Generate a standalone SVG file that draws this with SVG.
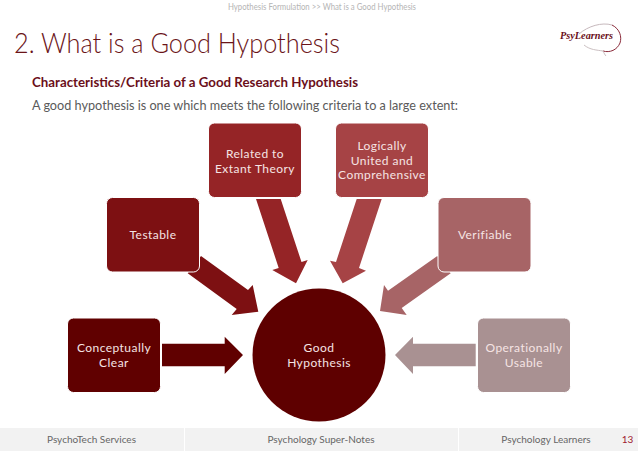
<svg xmlns="http://www.w3.org/2000/svg" width="638" height="451" viewBox="0 0 638 451">
<style>
text{font-family:"Lato","Noto Sans","Liberation Sans",sans-serif}
.box{stroke:#fff;stroke-width:1}
.lbl{fill:#f6e4e4;font-size:12px;letter-spacing:.45px;text-anchor:middle}
.foot{fill:#666;font-size:10px;text-anchor:middle}
.arrow{stroke:none}
</style>
<rect width="638" height="451" fill="#fff"/>
<g id="header">
<text x="228" y="10" font-size="8.5" fill="#b5b5b5" textLength="188" lengthAdjust="spacingAndGlyphs">Hypothesis Formulation &gt;&gt; What is a Good Hypothesis</text>
<text x="14" y="53" font-size="28" font-weight="300" fill="#6b1418" textLength="326" lengthAdjust="spacingAndGlyphs">2. What is a Good Hypothesis</text>
<text x="32" y="87" font-size="13.5" font-weight="700" fill="#6b0f1a" textLength="326" lengthAdjust="spacingAndGlyphs">Characteristics/Criteria of a Good Research Hypothesis</text>
<text x="32" y="110" font-size="13.5" fill="#5a5a5a" textLength="426" lengthAdjust="spacingAndGlyphs">A good hypothesis is one which meets the following criteria to a large extent:</text>
</g>
<g id="logo" fill="none">
<path d="M579 34C588 26 602 22 612 25" stroke="#bfb0b4" stroke-width="0.9"/>
<path d="M612 25C620 29 622 37 620 43C617 50 610 53 603 51" stroke="#8a2a3a" stroke-width="1"/>
<path d="M584 45C590 50 597 50 603 51C604 53 605 55 606 56" stroke="#c4b8ba" stroke-width="0.9"/>
<text x="560" y="39" font-size="10.5" font-weight="700" font-style="italic" fill="#6a0f20" stroke="none" textLength="53" lengthAdjust="spacingAndGlyphs" style="font-family:'Liberation Serif',serif">PsyLearners</text>
</g>
<g id="connectors">
<polygon class="arrow" fill="#600000" points="162,343.7 224.7,343.7 224.7,336.7 243,355 224.7,374 224.7,366.3 162,366.3"/>
<polygon class="arrow" fill="#7d1012" points="201,256 248,290 252.7,285 258.3,311.7 231.7,315 236.7,309 187.7,273.3"/>
<polygon class="arrow" fill="#952426" points="256,199 280.7,199 301.5,262 307.7,260 296,283.3 272.3,270 278.7,268"/>
<polygon class="arrow" fill="#a64345" points="381.7,199 359,268 366,270.7 342.7,283.3 330,260.7 336,262 356.7,199"/>
<polygon class="arrow" fill="#a76466" points="437.3,256 388,290.7 384,285 380,311 406.7,315 401.7,308 450.7,273.3"/>
<polygon class="arrow" fill="#a99192" points="475.7,343.7 413,343.7 413,336.7 395,355 413,374 413,366.3 475.7,366.3"/>
</g>
<g id="node-good"><circle cx="319" cy="355" r="66.500" fill="#5e0000"/><text class="lbl" y="352"><tspan x="319">Good</tspan><tspan x="319" dy="14.500">Hypothesis</tspan></text></g>
<g id="node-conceptually"><rect class="box" x="67.500" y="318" width="93" height="74.500" rx="6" fill="#600000"/><text class="lbl" y="352"><tspan x="114">Conceptually</tspan><tspan x="114" dy="14.500">Clear</tspan></text></g>
<g id="node-testable"><rect class="box" x="106.500" y="197.500" width="93" height="74.500" rx="6" fill="#7d1012"/><text class="lbl" x="153" y="239">Testable</text></g>
<g id="node-related"><rect class="box" x="208.500" y="123" width="93" height="74.500" rx="6" fill="#952426"/><text class="lbl" y="158"><tspan x="255">Related to</tspan><tspan x="255" dy="14.500">Extant Theory</tspan></text></g>
<g id="node-logically"><rect class="box" x="335.500" y="123" width="93" height="74.500" rx="6" fill="#a64345"/><text class="lbl" y="150"><tspan x="382">Logically</tspan><tspan x="382" dy="14.500">United and</tspan><tspan x="382" dy="14.500">Comprehensive</tspan></text></g>
<g id="node-verifiable"><rect class="box" x="438" y="197.500" width="93" height="74.500" rx="6" fill="#a76466"/><text class="lbl" x="485" y="239">Verifiable</text></g>
<g id="node-operationally"><rect class="box" x="477.500" y="318" width="93" height="74.500" rx="6" fill="#a99192"/><text class="lbl" y="352"><tspan x="524">Operationally</tspan><tspan x="524" dy="14.500">Usable</tspan></text></g>
<g id="footer">
<rect x="0" y="428" width="638" height="23" fill="#f2f2f2"/>
<path d="M184.500 428V451M458.500 428V451" stroke="#fff"/>
<text class="foot" x="91.500" y="443">PsychoTech Services</text>
<text class="foot" x="321" y="443">Psychology Super-Notes</text>
<text class="foot" x="546" y="443">Psychology Learners</text>
<text x="627.500" y="443" font-size="10" fill="#a02030" text-anchor="middle">13</text>
</g>
</svg>
